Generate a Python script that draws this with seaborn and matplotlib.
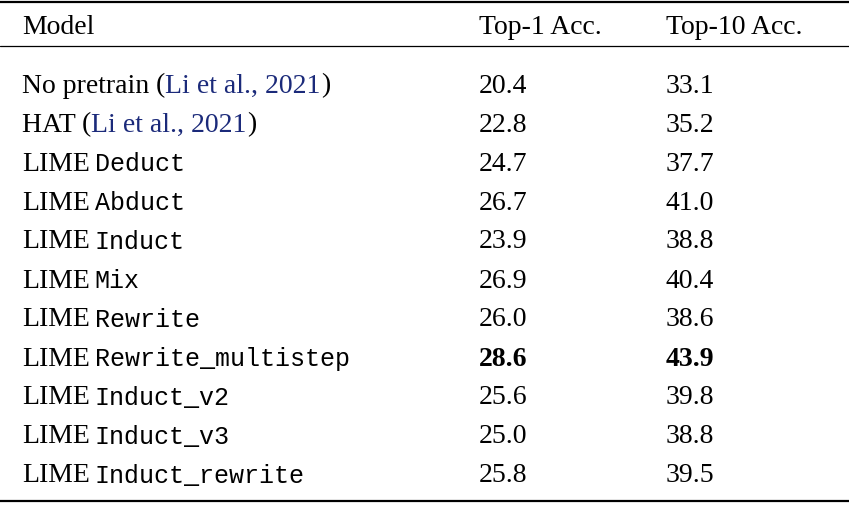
import matplotlib
matplotlib.use("Agg")
import matplotlib.pyplot as plt
import seaborn as sns

header = ["Model", "Top-1 Acc.", "Top-10 Acc."]
prefixes = ["No pretrain ", "HAT ", "LIME ", "LIME ", "LIME ", "LIME ", "LIME ", "LIME ", "LIME ", "LIME ", "LIME "]
codes = ["", "", "Deduct", "Abduct", "Induct", "Mix", "Rewrite", "Rewrite_multistep", "Induct_v2", "Induct_v3", "Induct_rewrite"]
cites = ["Li et al., 2021", "Li et al., 2021", "", "", "", "", "", "", "", "", ""]
top1 = ["20.4", "22.8", "24.7", "26.7", "23.9", "26.9", "26.0", "28.6", "25.6", "25.0", "25.8"]
top10 = ["33.1", "35.2", "37.7", "41.0", "38.8", "40.4", "38.6", "43.9", "39.8", "38.8", "39.5"]
best = 7

sns.set_theme(style="white")
W, H = 849, 506
fig = plt.figure(figsize=(W/100, H/100), dpi=100)
ax = fig.add_axes([0, 0, 1, 1])
ax.set_xlim(0, W); ax.set_ylim(H, 0); ax.axis("off")
r = fig.canvas.get_renderer()
serif = "Liberation Serif"; mono = "Liberation Mono"; fs = 20
cite_c = "#1b2a7a"

def put(x, y, s, color="black", **kw):
    t = ax.text(x, y, s, fontsize=fs, va="center", ha="left", color=color, **kw)
    bb = t.get_window_extent(renderer=r)
    return x + bb.width

ax.plot([0, W], [3, 3], color="black", lw=1.6)
ax.plot([0, W], [47, 47], color="black", lw=0.9)
ax.plot([0, W], [502, 502], color="black", lw=1.6)
xs = [22, 479, 666]
for x, h in zip(xs, header):
    put(x, 27, h, family=serif)

for i in range(len(prefixes)):
    y = 86 + i * 39
    if cites[i]:
        x = put(xs[0], y, prefixes[i], family=serif)
        x = put(x, y, "(", family=serif)
        x = put(x, y, cites[i], family=serif, color=cite_c)
        put(x, y, ")", family=serif)
    else:
        x = put(xs[0], y, prefixes[i].strip(), family=serif)
        ax.text(x + 5, y, codes[i], fontsize=18, family=mono, va="center", ha="left", color="black")
    w = "bold" if i == best else "normal"
    ax.text(xs[1], y, top1[i], fontsize=fs, family=serif, va="center", weight=w, color="black")
    ax.text(xs[2], y, top10[i], fontsize=fs, family=serif, va="center", weight=w, color="black")

fig.savefig("out.png", dpi=100)
